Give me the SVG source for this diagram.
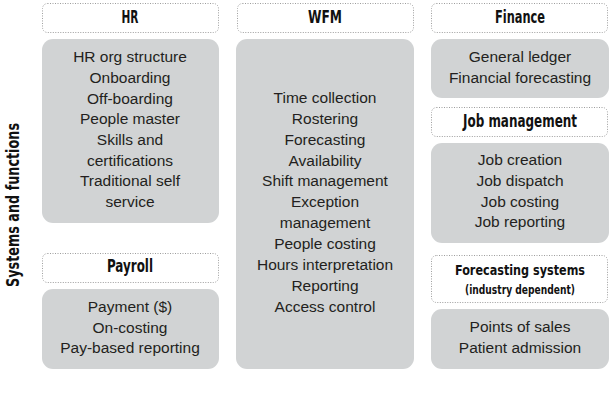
<svg xmlns="http://www.w3.org/2000/svg" width="609" height="408" viewBox="0 0 609 408">
<style>
.hdr{fill:#ffffff;stroke:#9d9d9d;stroke-width:1;stroke-dasharray:1 1.5}
.body{fill:#d1d3d4;stroke:none}
.ht{font-family:"Liberation Sans Narrow","DejaVu Sans Condensed","Liberation Sans",sans-serif;font-weight:bold;font-size:17px;fill:#111;text-anchor:middle}
.hs{font-family:"Liberation Sans Narrow","DejaVu Sans Condensed","Liberation Sans",sans-serif;font-weight:bold;font-size:12.5px;fill:#111;text-anchor:middle}
.bt{font-family:"Liberation Sans",Arial,sans-serif;font-size:15.5px;fill:#231f20;text-anchor:middle}
.side{font-family:"Liberation Sans Narrow","DejaVu Sans Condensed","Liberation Sans",sans-serif;font-weight:bold;font-size:18px;fill:#111;text-anchor:middle}
</style>
<rect width="609" height="408" fill="#ffffff"/>
<text class="side" transform="translate(19,205) rotate(-90)" textLength="164" lengthAdjust="spacingAndGlyphs">Systems and functions</text>

<g id="hr">
<rect class="hdr" x="42.5" y="3.5" width="176" height="29" rx="5"/>
<text class="ht" x="130" y="23" textLength="17" lengthAdjust="spacingAndGlyphs">HR</text>
<rect class="body" x="42" y="39" width="177" height="184" rx="11"/>
<text class="bt" x="130" y="62">HR org structure</text>
<text class="bt" x="130" y="83">Onboarding</text>
<text class="bt" x="130" y="104">Off-boarding</text>
<text class="bt" x="130" y="124">People master</text>
<text class="bt" x="130" y="145">Skills and</text>
<text class="bt" x="130" y="166">certifications</text>
<text class="bt" x="130" y="186">Traditional self</text>
<text class="bt" x="130" y="207">service</text>
</g>

<g id="payroll">
<rect class="hdr" x="42.5" y="253.5" width="176" height="29" rx="5"/>
<text class="ht" x="130" y="272" textLength="46" lengthAdjust="spacingAndGlyphs">Payroll</text>
<rect class="body" x="42" y="289" width="177" height="80" rx="11"/>
<text class="bt" x="130" y="312">Payment ($)</text>
<text class="bt" x="130" y="333">On-costing</text>
<text class="bt" x="130" y="353">Pay-based reporting</text>
</g>

<g id="wfm">
<rect class="hdr" x="237.5" y="3.5" width="176" height="29" rx="5"/>
<text class="ht" x="325" y="23" textLength="34" lengthAdjust="spacingAndGlyphs">WFM</text>
<rect class="body" x="236" y="39" width="178" height="330" rx="11"/>
<text class="bt" x="325" y="103">Time collection</text>
<text class="bt" x="325" y="124">Rostering</text>
<text class="bt" x="325" y="145">Forecasting</text>
<text class="bt" x="325" y="166">Availability</text>
<text class="bt" x="325" y="186">Shift management</text>
<text class="bt" x="325" y="207">Exception</text>
<text class="bt" x="325" y="228">management</text>
<text class="bt" x="325" y="249">People costing</text>
<text class="bt" x="325" y="270">Hours interpretation</text>
<text class="bt" x="325" y="291">Reporting</text>
<text class="bt" x="325" y="312">Access control</text>
</g>

<g id="finance">
<rect class="hdr" x="431.5" y="3.5" width="176" height="29" rx="5"/>
<text class="ht" x="520" y="23" textLength="50" lengthAdjust="spacingAndGlyphs">Finance</text>
<rect class="body" x="431" y="39" width="178" height="59" rx="11"/>
<text class="bt" x="520" y="62">General ledger</text>
<text class="bt" x="520" y="83">Financial forecasting</text>
</g>

<g id="job-management">
<rect class="hdr" x="431.5" y="107.5" width="176" height="29" rx="5"/>
<text class="ht" x="520" y="127" textLength="114" lengthAdjust="spacingAndGlyphs">Job management</text>
<rect class="body" x="431" y="143" width="178" height="100" rx="11"/>
<text class="bt" x="520" y="165">Job creation</text>
<text class="bt" x="520" y="186">Job dispatch</text>
<text class="bt" x="520" y="207">Job costing</text>
<text class="bt" x="520" y="227">Job reporting</text>
</g>

<g id="forecasting-systems">
<rect class="hdr" x="431.5" y="255.5" width="176" height="47" rx="5"/>
<text class="ht" x="520" y="275" style="font-size:14.5px" textLength="130" lengthAdjust="spacingAndGlyphs">Forecasting systems</text>
<text class="hs" x="520" y="294" textLength="110" lengthAdjust="spacingAndGlyphs">(industry dependent)</text>
<rect class="body" x="431" y="309" width="178" height="60" rx="11"/>
<text class="bt" x="520" y="332">Points of sales</text>
<text class="bt" x="520" y="353">Patient admission</text>
</g>

<g id="connectors"></g>
</svg>
